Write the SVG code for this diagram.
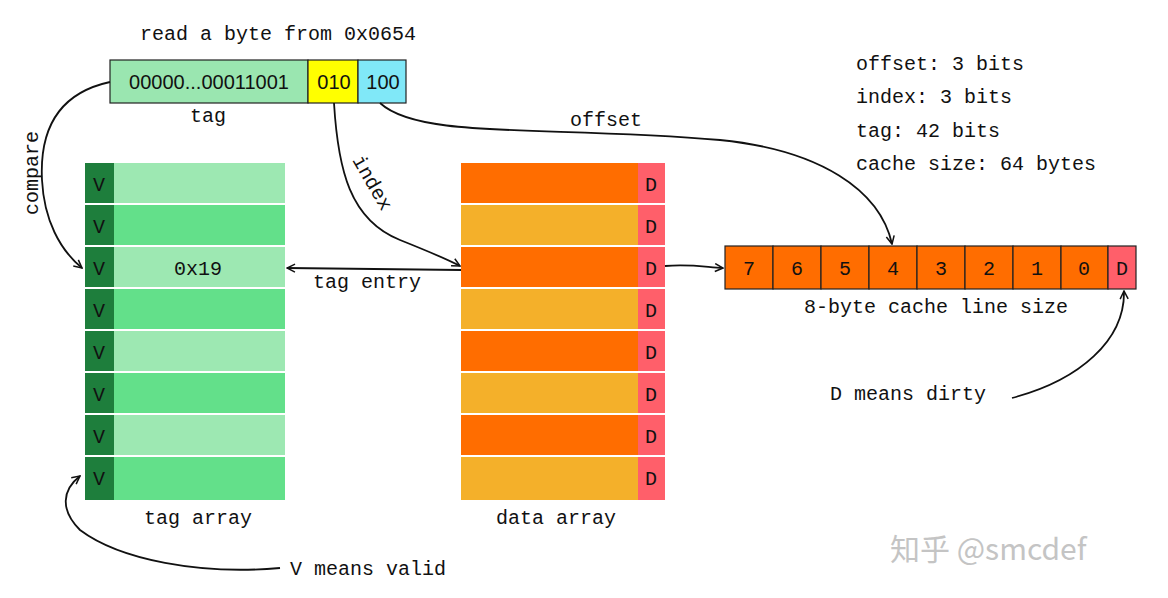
<svg xmlns="http://www.w3.org/2000/svg" width="1168" height="598" viewBox="0 0 1168 598">
<defs>
<style>
text{font-family:"Liberation Mono",monospace;fill:#111}
.t{font-size:20px}
.s{font-family:"Liberation Sans",sans-serif}
.b{stroke:#222;stroke-width:1.2}
.c{fill:none;stroke:#111;stroke-width:1.8}
.g1{fill:#9de8b2}.g2{fill:#63e08a}.v{fill:#1e7e3c}
.o1{fill:#ff6d00}.o2{fill:#f4b02a}.d{fill:#ff5f6a}
</style>
<marker id="a" viewBox="0 0 10 10" refX="9" refY="5" markerWidth="10" markerHeight="10" orient="auto" markerUnits="userSpaceOnUse"><path d="M1 1L9 5L1 9" fill="none" stroke="#111" stroke-width="1.5"/></marker>
</defs>
<rect width="1168" height="598" fill="#fff"/>
<g id="address">
<text class="t" x="140" y="40">read a byte from 0x0654</text>
<rect class="b" x="110" y="60" width="198" height="43" fill="#9ae6b0"/>
<rect class="b" x="308" y="60" width="50" height="43" fill="#ffff00"/>
<rect class="b" x="358" y="60" width="48" height="43" fill="#80e8f8"/>
<text class="t s" x="209" y="89" text-anchor="middle" font-size="22">00000...00011001</text>
<text class="t s" x="334" y="89" text-anchor="middle" font-size="22">010</text>
<text class="t s" x="383" y="89" text-anchor="middle" font-size="22">100</text>
<text class="t" x="208" y="122" text-anchor="middle">tag</text>
</g>
<g id="info">
<text class="t" x="856" y="70">offset: 3 bits</text>
<text class="t" x="856" y="103">index: 3 bits</text>
<text class="t" x="856" y="137">tag: 42 bits</text>
<text class="t" x="856" y="170">cache size: 64 bytes</text>
</g>
<g id="tag-array">
<rect class="v" x="85" y="163" width="29" height="337"/>
<rect class="g1" x="114" y="163" width="171" height="40"/>
<rect class="g2" x="114" y="205" width="171" height="40"/>
<rect class="g1" x="114" y="247" width="171" height="40"/>
<rect class="g2" x="114" y="289" width="171" height="40"/>
<rect class="g1" x="114" y="331" width="171" height="40"/>
<rect class="g2" x="114" y="373" width="171" height="40"/>
<rect class="g1" x="114" y="415" width="171" height="40"/>
<rect class="g2" x="114" y="457" width="171" height="43"/>
<g stroke="#fff" stroke-width="2"><line x1="85" y1="204" x2="114" y2="204"/><line x1="85" y1="246" x2="114" y2="246"/><line x1="85" y1="288" x2="114" y2="288"/><line x1="85" y1="330" x2="114" y2="330"/><line x1="85" y1="372" x2="114" y2="372"/><line x1="85" y1="414" x2="114" y2="414"/><line x1="85" y1="456" x2="114" y2="456"/></g>
<g class="t s" text-anchor="middle"><text x="99" y="191">V</text><text x="99" y="233">V</text><text x="99" y="275">V</text><text x="99" y="317">V</text><text x="99" y="359">V</text><text x="99" y="401">V</text><text x="99" y="443">V</text><text x="99" y="485">V</text></g>
<text class="t" x="198" y="275" text-anchor="middle">0x19</text>
<text class="t" x="198" y="524" text-anchor="middle">tag array</text>
</g>
<g id="data-array">
<rect class="o1" x="461" y="163" width="177" height="40"/>
<rect class="o2" x="461" y="205" width="177" height="40"/>
<rect class="o1" x="461" y="247" width="177" height="40"/>
<rect class="o2" x="461" y="289" width="177" height="40"/>
<rect class="o1" x="461" y="331" width="177" height="40"/>
<rect class="o2" x="461" y="373" width="177" height="40"/>
<rect class="o1" x="461" y="415" width="177" height="40"/>
<rect class="o2" x="461" y="457" width="177" height="43"/>
<rect class="d" x="638" y="163" width="27" height="337"/>
<g stroke="#fff" stroke-width="2"><line x1="638" y1="204" x2="665" y2="204"/><line x1="638" y1="246" x2="665" y2="246"/><line x1="638" y1="288" x2="665" y2="288"/><line x1="638" y1="330" x2="665" y2="330"/><line x1="638" y1="372" x2="665" y2="372"/><line x1="638" y1="414" x2="665" y2="414"/><line x1="638" y1="456" x2="665" y2="456"/></g>
<g class="t" text-anchor="middle"><text x="651" y="191">D</text><text x="651" y="233">D</text><text x="651" y="275">D</text><text x="651" y="317">D</text><text x="651" y="359">D</text><text x="651" y="401">D</text><text x="651" y="443">D</text><text x="651" y="485">D</text></g>
<text class="t" x="556" y="524" text-anchor="middle">data array</text>
</g>
<g id="cache-line">
<g class="b o1"><rect x="725" y="246" width="48" height="43"/><rect x="773" y="246" width="48" height="43"/><rect x="821" y="246" width="48" height="43"/><rect x="869" y="246" width="48" height="43"/><rect x="917" y="246" width="48" height="43"/><rect x="965" y="246" width="48" height="43"/><rect x="1013" y="246" width="48" height="43"/><rect x="1061" y="246" width="47" height="43"/></g>
<rect class="b d" x="1108" y="246" width="28" height="43"/>
<g class="t" text-anchor="middle"><text x="749" y="275">7</text><text x="797" y="275">6</text><text x="845" y="275">5</text><text x="893" y="275">4</text><text x="941" y="275">3</text><text x="989" y="275">2</text><text x="1037" y="275">1</text><text x="1084" y="275">0</text><text x="1122" y="275">D</text></g>
<text class="t" x="936" y="313" text-anchor="middle">8-byte cache line size</text>
</g>
<g id="connectors">
<path class="c" d="M110 82C50 95 40 140 42 180C44 220 60 250 82 268" marker-end="url(#a)"/>
<text class="t" transform="translate(38,215) rotate(-90)">compare</text>
<path class="c" d="M334 103C338 170 350 220 400 240C430 252 445 258 460 266" marker-end="url(#a)"/>
<text class="t" transform="translate(352,160) rotate(60)">index</text>
<path class="c" d="M380 103C420 140 550 125 720 140C820 150 880 190 892 244" marker-end="url(#a)"/>
<text class="t" x="570" y="126">offset</text>
<path class="c" d="M461 270L287 268" marker-end="url(#a)"/>
<text class="t" x="313" y="288">tag entry</text>
<path class="c" d="M665 266C690 264 705 267 723 268" marker-end="url(#a)"/>
<path class="c" d="M1012 398C1080 380 1125 340 1124 291" marker-end="url(#a)"/>
<text class="t" x="830" y="400">D means dirty</text>
<path class="c" d="M280 568C200 575 120 560 80 530C60 510 62 490 80 476" marker-end="url(#a)"/>
<text class="t" x="290" y="575">V means valid</text>
</g>
<text x="890" y="560" font-size="30" style="fill:#c4c4c4;font-family:'Noto Sans CJK SC','Liberation Sans',sans-serif">知乎 @smcdef</text>
</svg>
